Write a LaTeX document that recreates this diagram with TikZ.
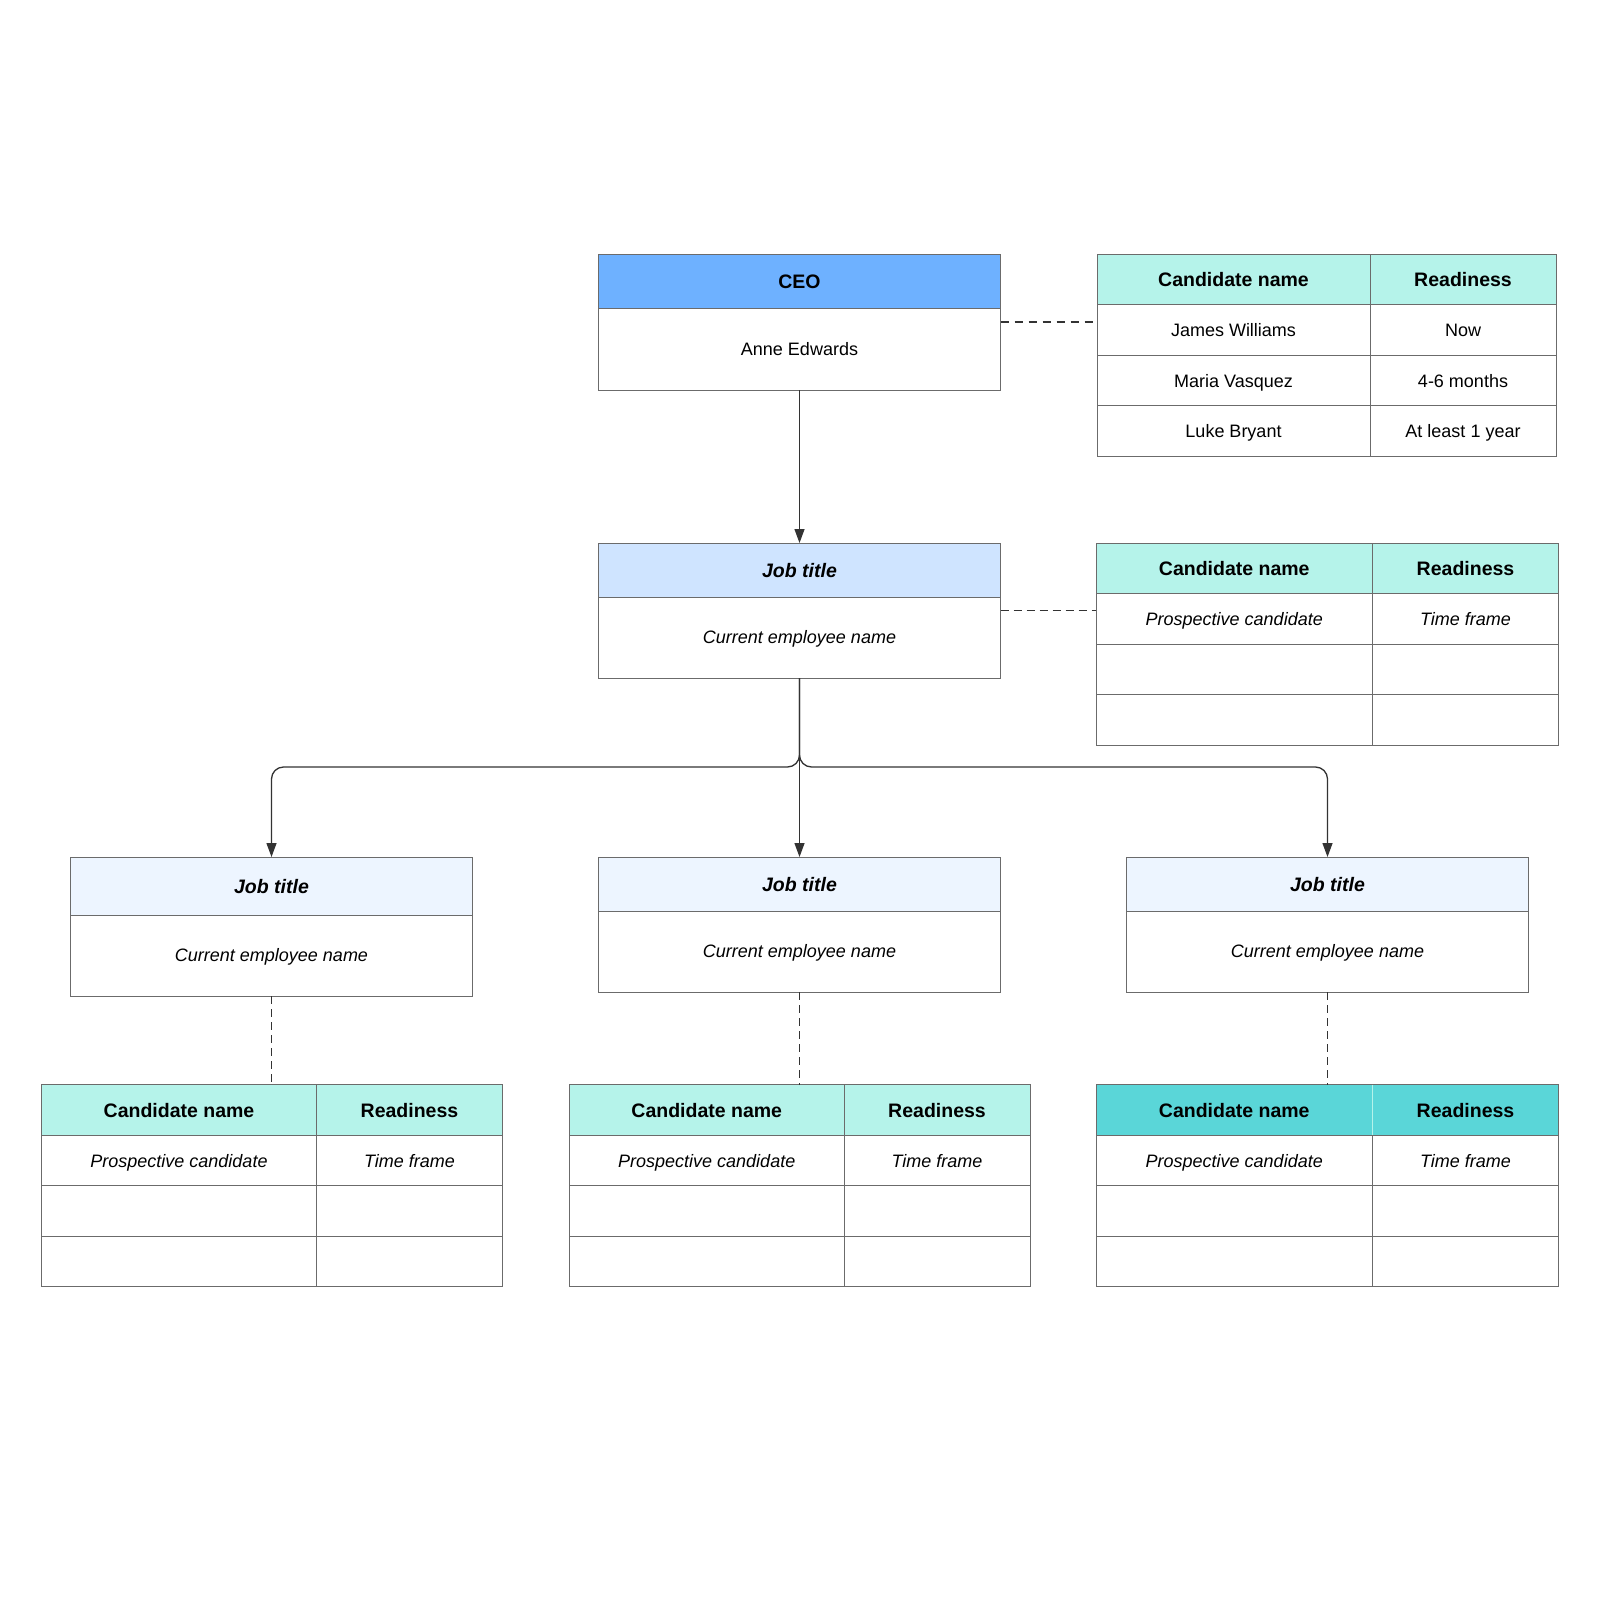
\documentclass[tikz,border=0pt]{standalone}
\usepackage{fontspec}
\setmainfont{Liberation Sans}
\usepackage{tikz}
\usetikzlibrary{arrows.meta, positioning, calc}

\definecolor{ceoblue}{HTML}{6EB1FF}
\definecolor{jobblue}{HTML}{CFE4FF}
\definecolor{paleblue}{HTML}{EDF5FF}
\definecolor{mint}{HTML}{B5F3EA}
\definecolor{tealhead}{HTML}{5AD6D8}
\definecolor{rulegray}{HTML}{6B6B6B}
\definecolor{linkgray}{HTML}{333333}

% box with a coloured title strip
\newcommand{\jobbox}[7]{%
  \node[boxframe, minimum height={#4*0.5pt}, anchor=north] (#1) at (#2,#3) {};
  \node[boxhead, fill=#5, minimum height={#6*0.5pt}, anchor=north] (#1H) at (#1.north) {#7};
}
% candidate table, #6 = rows
\newcommand{\candtable}[6]{%
  \node[cellhead, fill=#5, minimum width={#4*0.5pt}, anchor=north west] (#1-h1) at (#2,#3) {Candidate name};
  \node[cellhead, fill=#5, minimum width=93pt, anchor=north west] (#1-h2) at (#1-h1.north east) {Readiness};
  \foreach \ca/\cb [count=\i] in {#6}{
    \node[cell, minimum width={#4*0.5pt}, anchor=north west] (#1-a\i) at (#2,{#3+50.5*\i}) {\ca};
    \node[cell, minimum width=93pt, anchor=north west] (#1-b\i) at (#1-a\i.north east) {\cb};
  }
}

\begin{document}
\begin{tikzpicture}[
  x=0.5pt, y=-0.5pt,
  boxframe/.style={draw=rulegray, line width=0.5pt, fill=white,
                   minimum width=201pt, inner sep=0pt, outer sep=0pt},
  boxhead/.style={draw=rulegray, line width=0.5pt, minimum width=201pt,
                  text height=9.4pt, text depth=2pt,
                  inner sep=0pt, outer sep=0pt, font=\fontsize{9.75}{12}\selectfont\bfseries},
  bodytext/.style={inner sep=0pt, text height=8.2pt, text depth=2pt,
                   font=\fontsize{9}{11}\selectfont},
  cellhead/.style={draw=rulegray, line width=0.5pt, minimum height=25.25pt,
                   text height=9.4pt, text depth=2pt,
                   inner sep=0pt, outer sep=0pt, font=\fontsize{9.75}{12}\selectfont\bfseries},
  cell/.style={draw=rulegray, line width=0.5pt, minimum height=25.25pt,
               text height=9pt, text depth=2pt,
               inner sep=0pt, outer sep=0pt, font=\fontsize{9}{11}\selectfont},
  conn/.style={draw=linkgray, line width=0.65pt, -{Triangle[length=7pt, width=5pt]}},
  dashlink/.style={draw=linkgray, line width=0.9pt, dash pattern=on 4pt off 2.5pt}
]
\useasboundingbox (0,0) rectangle (1600,1600);

% job boxes
\jobbox{ceo}{799.5}{254}{136}{ceoblue}{54}{CEO}
\node[bodytext] (ceoN) at ($(ceoH.south)!0.5!(ceo.south)$) {Anne Edwards};

\jobbox{job}{799.5}{543}{135}{jobblue}{54}{\itshape Job title}
\node[bodytext] (jobN) at ($(jobH.south)!0.5!(job.south)$) {\itshape Current employee name};

\jobbox{jl}{271.5}{857}{139}{paleblue}{58}{\itshape Job title}
\node[bodytext] (jlN) at ($(jlH.south)!0.5!(jl.south)$) {\itshape Current employee name};

\jobbox{jm}{799.5}{857}{135}{paleblue}{54}{\itshape Job title}
\node[bodytext] (jmN) at ($(jmH.south)!0.5!(jm.south)$) {\itshape Current employee name};

\jobbox{jr}{1327.5}{857}{135}{paleblue}{54}{\itshape Job title}
\node[bodytext] (jrN) at ($(jrH.south)!0.5!(jr.south)$) {\itshape Current employee name};

% candidate tables
\candtable{ceoT}{1097}{254}{273}{mint}{James Williams/Now, Maria Vasquez/4-6 months, Luke Bryant/At least 1 year}
\candtable{jobT}{1096}{543}{276.5}{mint}{{\itshape Prospective candidate}/{\itshape Time frame}, {}/{}, {}/{}}
\candtable{jlT}{41.5}{1084.5}{275}{mint}{{\itshape Prospective candidate}/{\itshape Time frame}, {}/{}, {}/{}}
\candtable{jmT}{569.5}{1084.5}{274.5}{mint}{{\itshape Prospective candidate}/{\itshape Time frame}, {}/{}, {}/{}}
\candtable{jrT}{1096}{1084.5}{276.5}{tealhead}{{\itshape Prospective candidate}/{\itshape Time frame}, {}/{}, {}/{}}
\draw[mint, line width=0.5pt] (jrT-h1.north east) -- (jrT-h1.south east);

% reporting lines
\draw[conn] (ceo.south) -- (job.north);
\coordinate (split) at ($(job.south)+(0,89)$);
\draw[conn, rounded corners=6pt] (job.south) -- (split) -| (jl.north);
\draw[conn, rounded corners=6pt] (job.south) -- (split) -| (jr.north);
\draw[conn] (job.south) -- (jm.north);

% links to candidate tables
\draw[dashlink, line width=1.3pt, dash pattern=on 4pt off 3pt] (ceo.east) -- (ceo.east -| ceoT-h1.west);
\draw[dashlink] (job.east) -- (job.east -| jobT-h1.west);
\draw[dashlink] (jl.south) -- (jl.south |- jlT-h1.north);
\draw[dashlink] (jm.south) -- (jm.south |- jmT-h1.north);
\draw[dashlink] (jr.south) -- (jr.south |- jrT-h1.north);

\end{tikzpicture}
\end{document}
